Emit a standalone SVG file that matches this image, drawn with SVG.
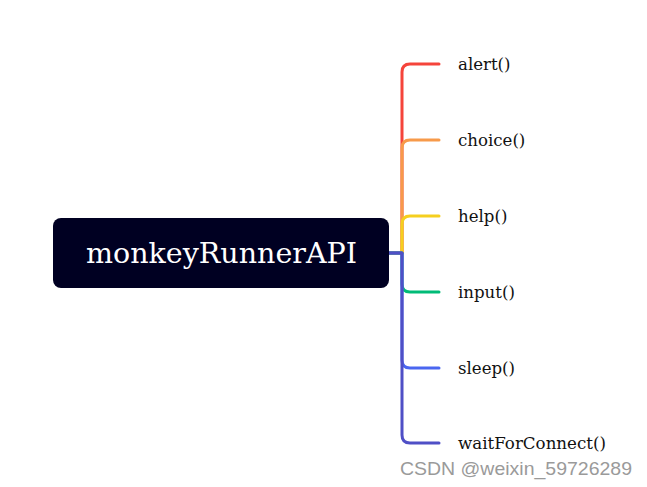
<svg xmlns="http://www.w3.org/2000/svg" width="647" height="487" viewBox="0 0 647 487">
<style>
.br{fill:none;stroke-width:3;stroke-linecap:round;stroke-linejoin:round}
.lbl{font-family:"DejaVu Serif","Liberation Serif",serif;font-size:16.6px;fill:#111}
.root{font-family:"DejaVu Serif","Liberation Serif",serif;font-size:28px;fill:#ffffff}
.wm{font-family:"Liberation Sans","DejaVu Sans",sans-serif;font-size:19px;fill:#9a9a9a}
</style>
<rect width="647" height="487" fill="#ffffff"/>
<g id="connectors">
<path class="br" stroke="#f5443b" d="M389 253 H402 V72 Q402 64 410 64 H439"/>
<path class="br" stroke="#f79a4a" d="M389 253 H402 V148 Q402 140 410 140 H439"/>
<path class="br" stroke="#f5cf1f" d="M389 253 H402 V224 Q402 216 410 216 H439"/>
<path class="br" stroke="#00bb77" d="M389 253 H402 V284 Q402 292 410 292 H439"/>
<path class="br" stroke="#4a66f0" d="M389 253 H402 V360 Q402 368 410 368 H439"/>
<path class="br" stroke="#4f4fc6" d="M389 253 H402 V435 Q402 443 410 443 H439"/>
</g>
<g id="root">
<rect x="53" y="218" width="336" height="70" rx="8" fill="#000022"/>
<text class="root" x="86" y="263" textLength="271" lengthAdjust="spacingAndGlyphs">monkeyRunnerAPI</text>
</g>
<g id="n-alert"><text class="lbl" x="458" y="70">alert()</text></g>
<g id="n-choice"><text class="lbl" x="458" y="146">choice()</text></g>
<g id="n-help"><text class="lbl" x="458" y="222">help()</text></g>
<g id="n-input"><text class="lbl" x="458" y="298">input()</text></g>
<g id="n-sleep"><text class="lbl" x="458" y="374">sleep()</text></g>
<g id="n-wait"><text class="lbl" x="458" y="449" textLength="148" lengthAdjust="spacingAndGlyphs">waitForConnect()</text></g>
<text class="wm" x="400" y="475" textLength="232" lengthAdjust="spacingAndGlyphs">CSDN @weixin_59726289</text>
</svg>
